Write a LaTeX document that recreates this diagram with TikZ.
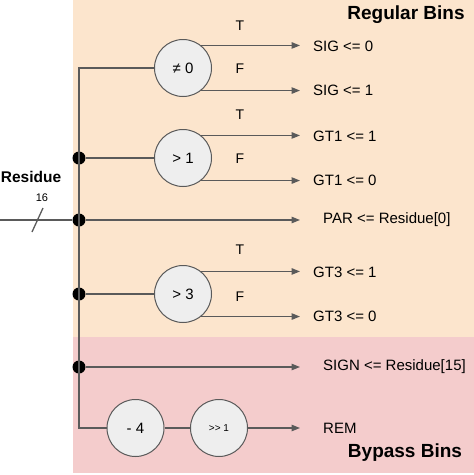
\documentclass[tikz,border=0pt]{standalone}
\usepackage{fontspec}
\setmainfont{Liberation Sans}
\usetikzlibrary{arrows.meta}
\definecolor{regfill}{HTML}{FCE5CD}
\definecolor{bypfill}{HTML}{F4CCCC}
\definecolor{wiregray}{HTML}{5A5A5A}
\definecolor{opfill}{HTML}{EEEEEE}
\begin{document}
\begin{tikzpicture}[x=1pt, y=-1pt,
    op/.style={circle, draw=wiregray, fill=opfill, line width=1pt, minimum size=57pt, inner sep=0pt, font=\fontsize{15}{18}\selectfont},
    dot/.style={circle, fill=black, minimum size=13pt, inner sep=0pt},
    lbl/.style={anchor=west, inner xsep=13pt, inner ysep=0pt, font=\fontsize{15}{18}\selectfont},
    far/.style={inner xsep=23pt},
    tf/.style={font=\fontsize{14}{17}\selectfont},
    head/.style={font=\bfseries\fontsize{19}{23}\selectfont},
    wire/.style={draw=wiregray, line width=1.3pt},
    arr/.style={wire, -{Triangle[length=8.5pt, width=6.5pt]}}]
        \useasboundingbox (0,0) rectangle (474,475);
        \fill[regfill] (73,0) rectangle (474,337);
        \fill[bypfill] (73,337) rectangle (474,473);

        \node[head] (regular) at (406,15) {Regular Bins};
        \node[head] (bypass) at (405,453) {Bypass Bins};
        \node[font=\bfseries\fontsize{15.5}{18}\selectfont] (residue) at (31,177) {Residue};
        \node[font=\fontsize{11}{13}\selectfont] (width) at (42,198) {16};

        \node[op] (neq) at (183,68) {≠ 0};
        \node[op] (gt1) at (183,158) {> 1};
        \node[op] (gt3) at (183,294) {> 3};
        \node[op] (sub) at (135.5,428) {- 4};
        \node[op, font=\fontsize{10}{12}\selectfont] (shr) at (219,428) {{>}{>} 1};

        \coordinate (top) at (79,68);
        \coordinate (bot) at (79,428);
        \coordinate (in) at (0,220);
        \node[dot] (j1) at (79,158) {};
        \node[dot] (j2) at (79,220) {};
        \node[dot] (j3) at (79,294) {};
        \node[dot] (j4) at (79,367) {};

        \node[lbl] (sig0) at (300,46) {SIG <= 0};
        \node[lbl] (sig1) at (300,90) {SIG <= 1};
        \node[lbl] (gt1t) at (300,136) {GT1 <= 1};
        \node[lbl] (gt1f) at (300,180) {GT1 <= 0};
        \node[lbl, far] (par) at (300,220) {PAR <= Residue[0]};
        \node[lbl] (gt3t) at (300,272) {GT3 <= 1};
        \node[lbl] (gt3f) at (300,316) {GT3 <= 0};
        \node[lbl, far] (sign) at (300,367) {SIGN <= Residue[15]};
        \node[lbl, far] (rem) at (300,428) {REM};

        \node[tf] (t1) at (240,26) {T};
        \node[tf] (f1) at (240,69) {F};
        \node[tf] (t2) at (240,115) {T};
        \node[tf] (f2) at (240,159) {F};
        \node[tf] (t3) at (240,250) {T};
        \node[tf] (f3) at (240,297) {F};

        \draw[wire] (neq) -- (top) -- (bot) -- (sub);
        \draw[wire] (in) -- (j2);
        \draw[wire] (32,232) -- (43,208);
        \draw[wire] (j1) -- (gt1);
        \draw[wire] (j3) -- (gt3);
        \draw[wire] (sub) -- (shr);

        \draw[arr] (neq.51) -- (neq.51 -| sig0.west);
        \draw[arr] (neq.-51) -- (neq.-51 -| sig1.west);
        \draw[arr] (gt1.51) -- (gt1.51 -| gt1t.west);
        \draw[arr] (gt1.-51) -- (gt1.-51 -| gt1f.west);
        \draw[arr] (gt3.51) -- (gt3.51 -| gt3t.west);
        \draw[arr] (gt3.-51) -- (gt3.-51 -| gt3f.west);
        \draw[arr] (j2) -- (par.west);
        \draw[arr] (j4) -- (sign.west);
        \draw[arr] (shr) -- (rem.west);
    \end{tikzpicture}
\end{document}
